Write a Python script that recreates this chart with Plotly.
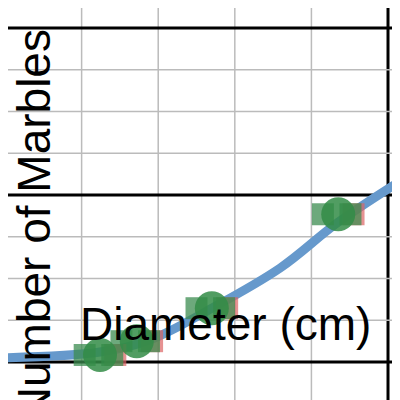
import plotly.graph_objects as go

# measured points (diameter cm, marbles)
pt_x = [1.24, 1.72, 2.70, 4.35]
pt_y = [0.17, 0.50, 1.29, 3.54]

# curve
curve_x = [-0.065, 1.24, 1.89, 2.70, 3.59, 4.35, 5.26]
curve_y = [0.10, 0.24, 0.53, 1.29, 2.25, 3.35, 4.45]

fig = go.Figure()

# grid
for gx in range(0, 6):
    major = gx in (0, 5)
    fig.add_shape(type="line", x0=gx, x1=gx, y0=-2, y1=9,
                  line=dict(color="black" if major else "#bbbbbb", width=3 if major else 1.5), layer="below")
for gy in range(-1, 9):
    major = gy % 4 == 0
    fig.add_shape(type="line", x0=-1, x1=6, y0=gy, y1=gy,
                  line=dict(color="black" if major else "#bbbbbb", width=3 if major else 1.5), layer="below")

fig.add_trace(go.Scatter(x=curve_x, y=curve_y, mode="lines", line=dict(color="#6699cc", width=9, shape="spline")))

off = 0.2
fig.add_trace(go.Scatter(x=[v - off for v in pt_x], y=pt_y, mode="markers",
                         marker=dict(symbol="square", size=22, color="rgba(60,140,80,0.75)")))
fig.add_trace(go.Scatter(x=[v + off for v in pt_x], y=pt_y, mode="markers",
                         marker=dict(symbol="square", size=22, color="rgba(220,100,100,0.7)")))
fig.add_trace(go.Scatter(x=[v + off * 0.8 for v in pt_x], y=pt_y, mode="markers",
                         marker=dict(symbol="square", size=22, color="rgba(60,140,80,0.75)")))
fig.add_trace(go.Scatter(x=pt_x, y=pt_y, mode="markers",
                         marker=dict(size=34, color="rgba(50,140,70,0.85)")))

fig.add_annotation(x=0.543, y=0.14, xref="paper", yref="paper", text="Diameter (cm)",
                   showarrow=False, font=dict(size=46, color="black", family="Liberation Sans"))
fig.add_annotation(x=-0.005, y=0.457, xref="paper", yref="paper", text="Number of Marbles",
                   showarrow=False, textangle=-90, font=dict(size=46, color="black", family="Liberation Sans"))

fig.update_layout(width=400, height=400, margin=dict(l=0, r=0, t=0, b=0),
                  plot_bgcolor="white", paper_bgcolor="white", showlegend=False,
                  xaxis=dict(range=[0.039, 5.261], visible=False),
                  yaxis=dict(range=[-1.10, 8.48], visible=False))
fig.write_html("out.html")
